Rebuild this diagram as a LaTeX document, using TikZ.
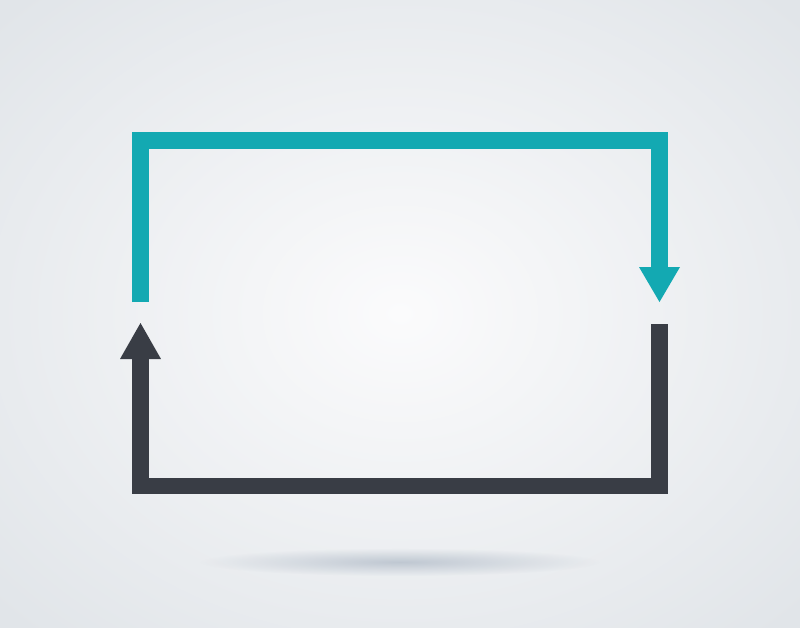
\documentclass[tikz,border=0pt]{standalone}
\usetikzlibrary{fadings}
\definecolor{teal1}{HTML}{13A9B2}
\definecolor{dark1}{HTML}{393D45}
\definecolor{bgin}{HTML}{FBFBFC}
\definecolor{bgout}{HTML}{E1E5E9}
\definecolor{shadowc}{HTML}{B4BECA}
\tikzfading[name=softfade, inner color=transparent!20, outer color=transparent!100]
\tikzset{
  flow/.style={line width=16.5pt, line cap=butt, line join=miter},
  tealflow/.style={flow, draw=teal1},
  darkflow/.style={flow, draw=dark1},
  headteal/.style={fill=teal1},
  headdark/.style={fill=dark1}
}
\begin{document}
\begin{tikzpicture}[x=1pt,y=-1pt]
\useasboundingbox (0,0) rectangle (800,627);
\shade[inner color=bgin, outer color=bgout] (-150,-120) rectangle (950,747);
\fill[shadowc, path fading=softfade] (400,562) ellipse (200 and 14);
% teal path
\coordinate (t0) at (140.5,302);
\coordinate (t1) at (140.5,140.5);
\coordinate (t2) at (659.5,140.5);
\coordinate (t3) at (659.5,268);
\draw[tealflow] (t0) -- (t1) -- (t2) -- (t3);
\coordinate (ta) at (639,267);
\coordinate (tb) at (680,267);
\coordinate (tc) at (659.5,302);
\fill[headteal] (ta) -- (tb) -- (tc) -- cycle;
% dark path
\coordinate (d0) at (659.5,324);
\coordinate (d1) at (659.5,486);
\coordinate (d2) at (140.5,486);
\coordinate (d3) at (140.5,358);
\draw[darkflow] (d0) -- (d1) -- (d2) -- (d3);
\coordinate (da) at (120,359);
\coordinate (db) at (161,359);
\coordinate (dc) at (140.5,323);
\fill[headdark] (da) -- (db) -- (dc) -- cycle;
\end{tikzpicture}
\end{document}
